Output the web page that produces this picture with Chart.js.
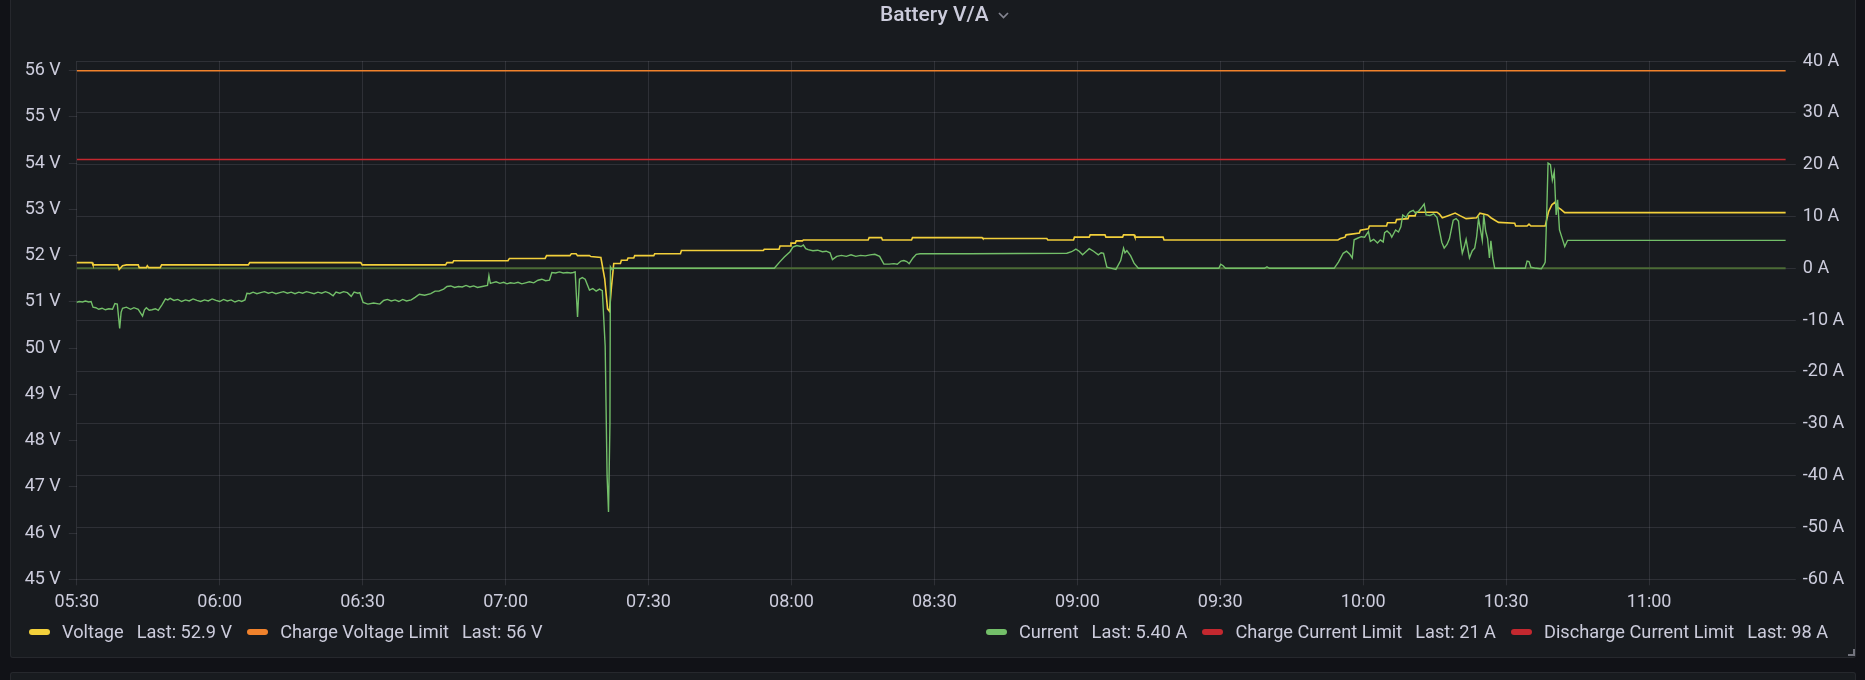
<!DOCTYPE html>
<html>
<head>
<meta charset="utf-8">
<script src="https://cdn.jsdelivr.net/npm/chart.js@4.4.1/dist/chart.umd.min.js"></script>
<style>
  html, body { margin:0; padding:0; background:#111217; width:1865px; height:680px; overflow:hidden; font-family: Roboto, "Noto Sans", sans-serif; }
  #panel { position:absolute; left:10px; top:-10px; width:1846px; height:668px; background:#181b1f; border:1px solid rgba(204,204,220,0.08); border-radius:3px; box-sizing:border-box; }
  #panel2 { position:absolute; left:10px; top:672px; width:1846px; height:30px; background:#181b1f; border:1px solid rgba(204,204,220,0.08); border-radius:3px; box-sizing:border-box; }
  #wrap { position:absolute; left:0; top:0; width:1865px; height:680px; }
  #title { position:absolute; top:1px; left:880px; color:rgb(204,204,220); font-size:21px; font-weight:500; line-height:26px; white-space:nowrap; }
  #title svg { position:absolute; left:118px; top:11px; }
  .legend { position:absolute; top:621px; display:flex; align-items:center; color:rgb(204,204,220); font-size:18.2px; line-height:22px; white-space:nowrap; }
  .item { display:flex; align-items:center; margin-right:15px; }
  .item:last-child { margin-right:0; }
  .mk { width:21px; height:6px; border-radius:3px; margin-right:12px; }
  .last { margin-left:13px; }
  #handle { position:absolute; left:1848px; top:649px; width:5px; height:5px; border-right:2px solid rgba(204,204,220,0.5); border-bottom:2px solid rgba(204,204,220,0.5); }
</style>
</head>
<body>
<div id="panel"></div>
<div id="panel2"></div>
<div id="wrap"><canvas id="c"></canvas></div>
<div id="title">Battery V/A<svg width="11" height="7" viewBox="0 0 11 7"><path d="M1 1 L5.5 5.5 L10 1" fill="none" stroke="rgba(204,204,220,0.6)" stroke-width="1.7"/></svg></div>
<div class="legend" id="legL" style="left:29px;"></div>
<div class="legend" id="legR" style="right:37px;"></div>
<div id="handle"></div>
<script>
// ---- Data (time in minutes since midnight) ----
const timeStart = 330;   // 05:30
const timeEnd = 688.7;   // ~11:29
const xTickStep = 30;

const voltTime = [329.8,333.2,333.4,338.6,338.9,339.6,340.4,342.9,343.1,344.6,344.8,345.1,347.5,347.8,366.0,366.3,389.6,389.9,407.4,407.7,408.9,409.1,420.5,420.8,428.3,428.6,433.5,433.8,434.8,435.1,437.6,437.9,440.0,440.8,441.4,441.8,442.2,442.7,444.1,444.3,445.5,445.7,446.9,447.1,451.1,451.3,456.7,456.9,474.1,474.3,477.4,477.6,479.7,479.9,480.8,481.0,482.3,482.5,496.1,496.3,498.9,499.1,505.2,505.4,520.0,520.2,533.6,533.8,539.2,539.4,542.5,542.7,545.8,546.0,549.5,549.7,551.9,552.1,558.0,558.2,594.7,595.2,596.2,596.4,599.2,599.4,601.1,601.3,604.9,605.1,606.8,607.0,609.4,609.6,610.9,611.1,615.5,616.0,616.6,617.7,619.3,620.4,621.6,623.8,624.5,626.1,626.8,628.4,631.8,632.0,634.4,634.8,635.2,638.2,638.9,639.6,640.2,640.8,641.5,642.3,688.7];
const voltValue = [51.85,51.85,51.80,51.80,51.70,51.78,51.80,51.80,51.74,51.74,51.78,51.74,51.74,51.80,51.80,51.85,51.85,51.80,51.80,51.85,51.85,51.89,51.89,51.94,51.94,52.00,52.00,52.04,52.04,52.00,52.00,51.98,51.96,51.50,50.85,50.80,51.30,51.83,51.83,51.90,51.90,51.95,51.95,52.00,52.00,52.04,52.04,52.11,52.11,52.14,52.14,52.21,52.21,52.27,52.27,52.32,52.32,52.34,52.34,52.39,52.39,52.34,52.34,52.39,52.39,52.37,52.37,52.34,52.34,52.40,52.40,52.45,52.45,52.40,52.40,52.45,52.45,52.40,52.40,52.34,52.34,52.37,52.40,52.45,52.49,52.55,52.58,52.64,52.64,52.71,52.71,52.78,52.80,52.86,52.86,52.94,52.94,52.90,52.82,52.86,52.92,52.86,52.80,52.82,52.92,52.88,52.82,52.72,52.70,52.64,52.64,52.68,52.64,52.64,52.95,53.10,53.15,53.05,53.00,52.93,52.93];

const currTime = [329.8,330.5,331.2,331.8,332.5,333.0,333.4,334.0,334.6,335.3,336.0,336.7,337.5,338.0,338.5,339.0,339.3,339.6,340.4,341.3,342.0,342.9,343.8,344.2,344.6,345.2,345.8,346.5,347.1,347.9,348.6,349.1,349.6,350.4,351.2,352.0,352.8,353.6,354.4,355.2,356.0,356.8,357.6,358.4,359.2,360.0,360.8,361.6,362.4,363.2,364.0,364.6,365.3,365.7,366.3,367.0,367.8,368.6,369.4,370.2,371.0,371.8,372.6,373.4,374.2,375.0,375.8,376.6,377.4,378.2,379.0,379.8,380.6,381.4,382.2,383.0,383.8,384.4,385.2,386.0,386.8,387.6,388.2,389.0,389.4,390.1,391.1,392.3,393.6,394.4,395.2,396.0,396.8,397.6,398.4,399.2,400.2,401.0,401.9,403.0,404.3,405.2,406.0,407.0,407.7,408.5,409.3,410.1,410.9,411.7,412.5,413.3,414.1,415.1,416.2,416.5,416.8,417.2,418.0,418.8,419.6,420.3,421.0,421.8,422.6,423.4,424.2,425.0,425.9,426.8,427.6,428.4,429.2,429.7,430.5,431.3,432.1,432.9,433.7,434.2,434.6,435.1,435.5,436.1,436.7,437.6,438.3,439.0,439.7,440.3,440.9,441.3,441.6,441.9,442.0,442.4,442.7,476.4,477.5,478.5,479.7,480.3,481.1,482.0,482.5,483.0,483.5,484.5,485.5,486.5,487.3,488.1,488.6,489.5,490.5,491.5,492.5,493.5,494.5,495.5,496.5,497.5,498.5,499.4,500.5,501.5,502.2,503.0,503.6,504.2,504.7,505.5,506.2,507.0,517.2,537.8,538.8,539.7,540.4,541.1,541.8,542.5,543.4,544.4,545.0,545.5,546.2,547.2,548.1,549.1,549.7,550.0,550.4,551.2,551.9,552.8,569.7,570.1,570.6,571.1,579.3,579.8,580.3,593.9,594.8,595.8,596.5,597.2,597.7,598.1,598.8,599.6,600.3,601.1,601.5,602.2,603.0,603.6,604.2,604.5,605.0,605.7,606.0,606.8,607.4,607.9,608.3,609.0,609.4,609.8,610.5,611.0,611.7,612.4,612.8,613.2,614.0,614.8,615.5,615.9,616.5,617.0,617.6,618.1,618.5,618.9,619.5,620.0,620.4,620.8,621.2,621.6,622.0,622.3,622.9,623.4,623.8,624.2,624.6,625.0,625.3,625.7,626.1,626.5,626.8,627.2,627.6,634.0,634.4,634.8,635.2,636.3,637.4,638.0,638.2,638.5,638.8,639.3,639.7,640.1,640.5,640.8,641.2,642.0,642.3,642.9,688.7];
const currValue = [-6.6,-6.4,-6.5,-6.3,-6.5,-6.4,-7.5,-7.6,-7.9,-7.7,-8.0,-7.8,-7.9,-6.8,-6.9,-11.6,-8.5,-7.7,-7.5,-7.9,-7.6,-7.9,-9.2,-8.0,-7.6,-8.1,-8.0,-7.8,-8.1,-7.0,-5.9,-6.1,-5.8,-6.2,-6.0,-6.4,-6.1,-6.3,-5.9,-6.2,-6.4,-6.1,-6.3,-5.9,-6.2,-6.4,-6.0,-6.3,-6.1,-6.5,-6.2,-6.4,-6.1,-4.8,-4.9,-4.6,-4.9,-4.7,-4.5,-4.8,-4.6,-4.9,-4.7,-4.5,-4.8,-4.6,-4.9,-4.6,-4.8,-4.5,-4.7,-4.9,-4.6,-4.8,-4.5,-4.8,-5.3,-4.6,-4.8,-4.5,-4.7,-5.4,-4.6,-4.8,-4.7,-6.6,-6.9,-6.7,-6.9,-6.2,-6.0,-6.3,-6.1,-6.4,-6.0,-6.3,-6.1,-5.6,-5.0,-5.2,-4.9,-4.4,-4.4,-4.0,-3.5,-3.4,-3.7,-3.5,-3.6,-3.3,-3.6,-3.4,-3.7,-3.5,-3.3,-1.4,-2.9,-2.8,-2.6,-2.9,-2.7,-3.0,-2.8,-2.9,-2.7,-3.0,-2.8,-2.6,-2.8,-2.3,-2.1,-2.4,-2.3,-0.8,-0.9,-0.7,-0.9,-0.8,-0.9,-0.8,-0.7,-9.4,-2.1,-1.8,-2.1,-4.2,-3.9,-4.4,-4.0,-4.3,-15,-40,-47,-30,0.3,-0.3,0,0,1.2,2.2,3.2,4.1,4.4,4.2,4.5,3.8,3.6,3.4,3.5,3.2,3.3,3.0,1.7,2.3,2.5,2.3,2.6,2.3,2.5,2.4,2.6,2.7,2.3,0.8,0.8,0.9,0.8,1.4,1.5,1.3,0.9,2.0,2.7,2.8,2.8,2.9,3.2,3.7,3.3,2.6,3.2,3.8,3.3,2.6,3.0,2.9,0.2,0.0,-0.2,1.5,3.9,3.0,3.4,2.4,1.0,0,0,0.8,0.5,0,0,0.3,0,0,1.2,2.9,3.3,2.7,2.0,5.5,5.8,6.1,6.0,7.1,5.2,5.6,4.9,5.5,5.1,6.9,7.2,6.6,6.0,7.4,7.0,8.0,10.3,9.8,10.5,10.9,11.2,10.6,11.1,11.9,12.4,10.3,10.2,10.5,9.8,7.8,5.0,3.9,4.6,5.7,7.5,9.3,9.6,9.1,5.5,2.9,4.1,5.6,3.5,2.0,3.4,3.9,6.0,9.6,7.5,5.4,10.3,7.2,5.8,2.0,5.3,2.0,0,0,1.4,1.3,0.2,0,-0.1,0.8,1.2,10,20.3,20.0,17.0,18.6,10.3,13.2,7.4,5.1,4.2,5.4,5.4];

const chargeVoltageLimit = 56;
const chargeCurrentLimit = 21;
const dischargeCurrentLimit = 98;

const voltTicks = [45,46,47,48,49,50,51,52,53,54,55,56];
const currTicks = [-60,-50,-40,-30,-20,-10,0,10,20,30,40];

const legendLeft = [
  {name:'Voltage', last:'Last: 52.9 V', color:'#F2D03B'},
  {name:'Charge Voltage Limit', last:'Last: 56 V', color:'#F0822C'}
];
const legendRight = [
  {name:'Current', last:'Last: 5.40 A', color:'#73BF69'},
  {name:'Charge Current Limit', last:'Last: 21 A', color:'#C4282F'},
  {name:'Discharge Current Limit', last:'Last: 98 A', color:'#C4282F'}
];

// ---- build legend ----
function buildLegend(el, items){
  items.forEach(it=>{
    const d=document.createElement('div'); d.className='item';
    d.innerHTML='<div class="mk" style="background:'+it.color+'"></div><span>'+it.name+'</span><span class="last">'+it.last+'</span>';
    el.appendChild(d);
  });
}
buildLegend(document.getElementById('legL'), legendLeft);
buildLegend(document.getElementById('legR'), legendRight);

// ---- chart ----
const pts = (ts, vs) => ts.map((t,i)=>({x:t, y:vs[i]}));
const flat = v => [{x:timeStart,y:v},{x:timeEnd,y:v}];
const pad2 = n => (n<10?'0':'')+n;
const fmtTime = m => pad2(Math.floor(m/60))+':'+pad2(Math.round(m%60));

const textColor = 'rgb(204,204,220)';
const gridColor = 'rgba(204,204,220,0.12)';
const font = {family:'Roboto', size:18};

const plotLeft = 76.8, plotRight = 1785.8, plotTop = 61, plotBottom = 579.3;

new Chart(document.getElementById('c'), {
  type:'line',
  data:{
    datasets:[
      {label:'Voltage', data:pts(voltTime, voltValue), yAxisID:'yV', borderColor:legendLeft[0].color, borderWidth:1.6, order:3},
      {label:'Charge Voltage Limit', data:flat(chargeVoltageLimit), yAxisID:'yV', borderColor:legendLeft[1].color, borderWidth:1.6, order:4},
      {label:'Current', data:pts(currTime, currValue), yAxisID:'yA', borderColor:legendRight[0].color, borderWidth:1.4, order:2},
      {label:'Charge Current Limit', data:flat(chargeCurrentLimit), yAxisID:'yA', borderColor:legendRight[1].color, borderWidth:1.6, order:5},
      {label:'Discharge Current Limit', data:flat(dischargeCurrentLimit), yAxisID:'yA', borderColor:legendRight[2].color, borderWidth:1.6, order:6},
      {label:'zero', data:flat(0), yAxisID:'yA', borderColor:'#4B6B36', borderWidth:2, order:10}
    ]
  },
  options:{
    responsive:true, maintainAspectRatio:false, animation:false,
    layout:{padding:{top:plotTop, left:0, right:0, bottom:0}},
    elements:{point:{radius:0}, line:{tension:0}},
    plugins:{legend:{display:false}, tooltip:{enabled:false}, title:{display:false}},
    scales:{
      x:{
        type:'linear', min:timeStart, max:timeEnd,
        grid:{color:gridColor, tickLength:6, drawTicks:true, tickColor:gridColor},
        border:{display:false},
        ticks:{color:textColor, font:font, padding:6, maxRotation:0, autoSkip:false, stepSize:xTickStep,
          callback:v=> (v%30===0 ? fmtTime(v) : null)},
        afterFit: s=>{ s.height = 680 - plotBottom; }
      },
      yV:{
        type:'linear', position:'left', min:45, max:56.21,
        afterBuildTicks: s=>{ s.ticks = voltTicks.map(v=>({value:v})); },
        grid:{drawOnChartArea:false, color:gridColor, tickLength:8, tickColor:gridColor},
        border:{display:false},
        ticks:{color:textColor, font:font, padding:8, callback:v=>v+' V'},
        afterFit: s=>{ s.width = plotLeft; }
      },
      yA:{
        type:'linear', position:'right', min:-60, max:40,
        afterBuildTicks: s=>{ s.ticks = currTicks.map(v=>({value:v})); },
        grid:{drawOnChartArea:true, color:gridColor, tickLength:10, tickColor:gridColor},
        border:{display:false},
        ticks:{color:textColor, font:font, padding:7, callback:v=>v+' A'},
        afterFit: s=>{ s.width = 1865 - plotRight; }
      }
    }
  }
});
</script>
</body>
</html>
